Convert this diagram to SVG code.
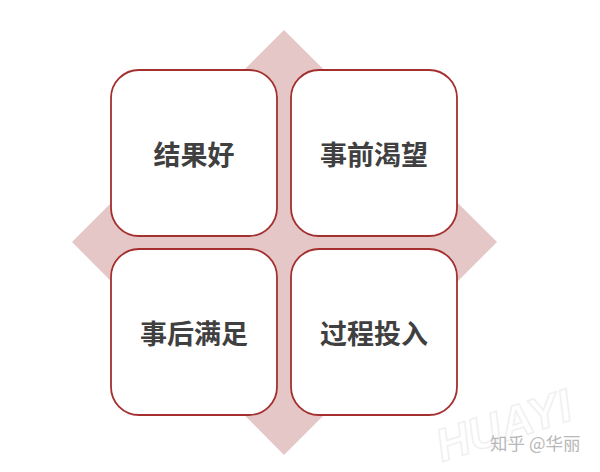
<svg xmlns="http://www.w3.org/2000/svg" width="600" height="472" viewBox="0 0 600 472">
<style>
.box{fill:#ffffff;stroke:#a3302f;stroke-width:1.8}
.lbl{font-family:"Noto Sans CJK SC","Noto Sans",sans-serif;font-weight:bold;font-size:27px;fill:#404040;text-anchor:middle;dominant-baseline:central}
.wm{font-family:"Noto Sans CJK SC","Liberation Sans",sans-serif;font-size:17.5px;fill:#b8b8b8}
</style>
<rect width="600" height="472" fill="#ffffff"/>
<text x="442" y="462" transform="rotate(-18 442 462)" font-family="Liberation Sans,sans-serif" font-weight="bold" font-style="italic" font-size="46" fill="none" stroke="#f0f0f0" stroke-width="1.5">HUAYI</text>
<polygon id="diamond" points="284,30 497,242 284,455 72,242" fill="#e5c7c7"/>
<g id="n1"><rect class="box" x="111" y="70" width="166" height="166" rx="28"/><text class="lbl" x="194" y="153">结果好</text></g>
<g id="n2"><rect class="box" x="291" y="70" width="166" height="166" rx="28"/><text class="lbl" x="374" y="153">事前渴望</text></g>
<g id="n3"><rect class="box" x="111" y="249" width="166" height="166" rx="28"/><text class="lbl" x="194" y="332">事后满足</text></g>
<g id="n4"><rect class="box" x="291" y="249" width="166" height="166" rx="28"/><text class="lbl" x="374" y="332">过程投入</text></g>
<g id="connectors"></g>
<text class="wm" x="490" y="450">知乎 @华丽</text>
</svg>
